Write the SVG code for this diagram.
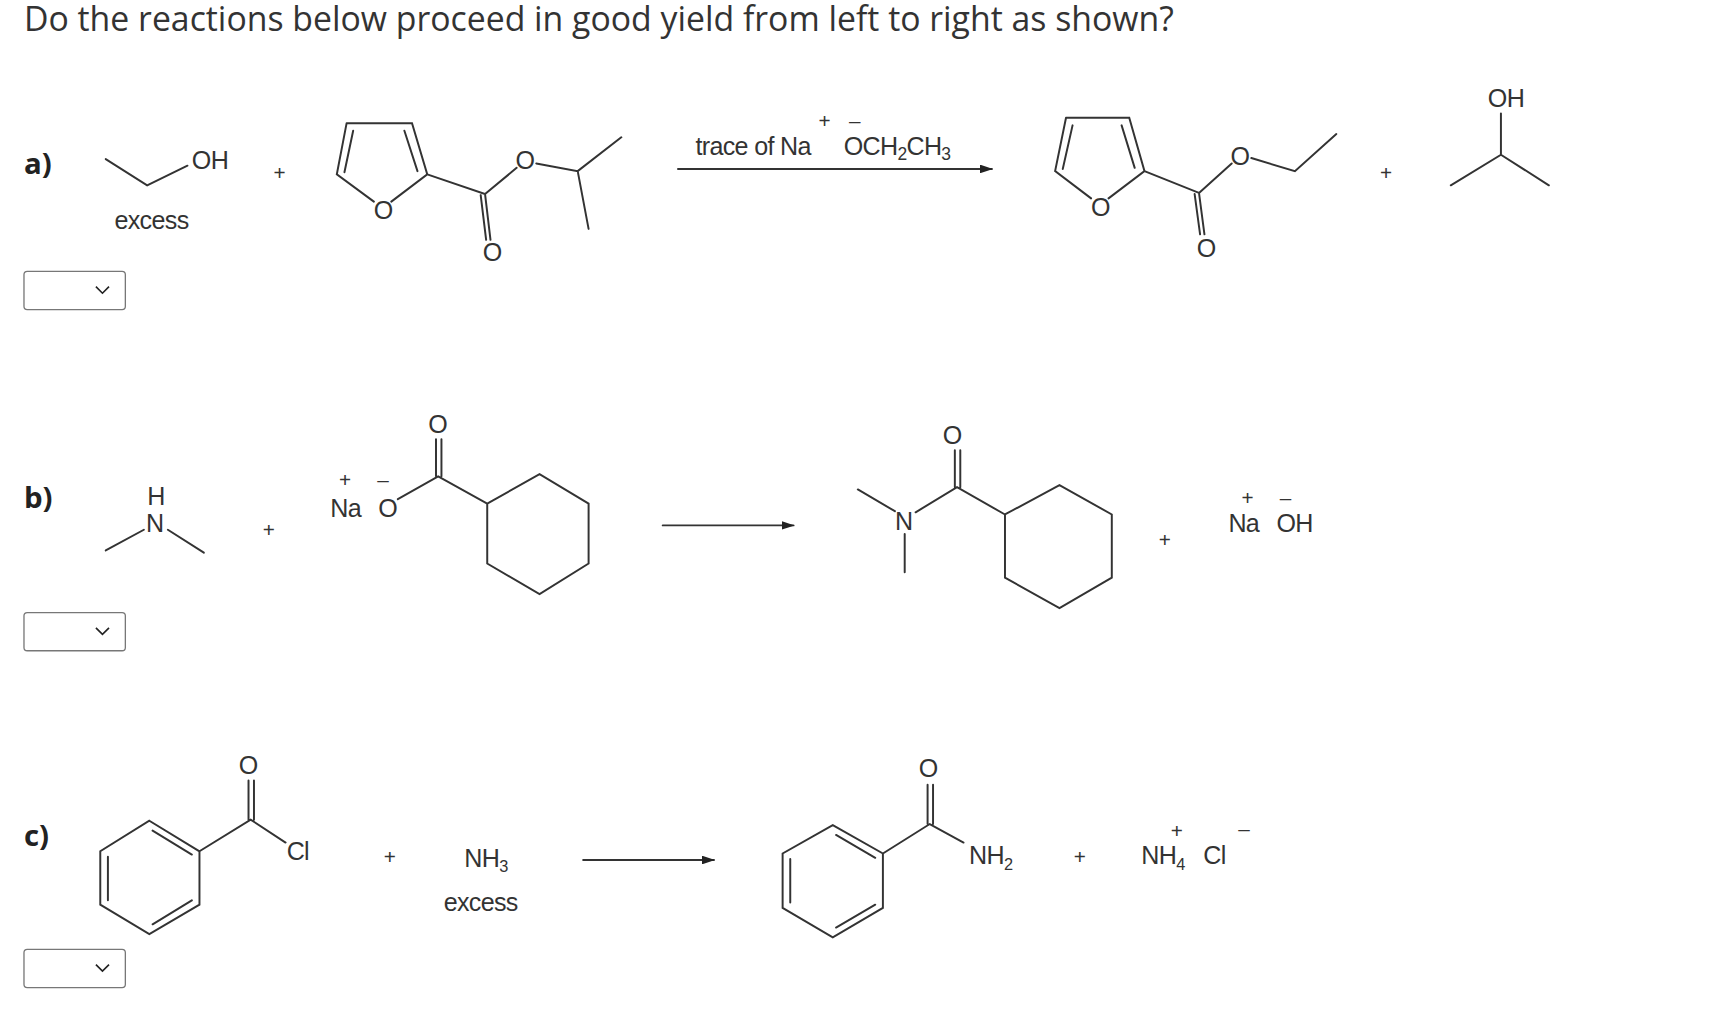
<svg xmlns="http://www.w3.org/2000/svg" width="1710" height="1025" viewBox="0 0 1710 1025">
<style>
.b{stroke:#333;stroke-width:1.8;fill:none;stroke-linecap:round}
.t{font-family:"Liberation Sans",Arial,sans-serif;font-size:23px;fill:#333;letter-spacing:-0.6px}
.s{font-family:"Liberation Sans",Arial,sans-serif;font-size:19px;fill:#333}
.q{font-family:"Open Sans","Noto Sans",sans-serif;font-size:31px;fill:#333}
.l{font-family:"Open Sans","Noto Sans",sans-serif;font-size:27px;font-weight:bold;fill:#222}
.dd{fill:#fff;stroke:#777;stroke-width:1.2}
.ch{stroke:#222;stroke-width:1.5;fill:none}
</style>
<defs><marker id="ah" markerWidth="12" markerHeight="8" refX="11" refY="4" orient="auto" markerUnits="userSpaceOnUse"><path d="M0,0 L12,4 L0,8 z" fill="#222"/></marker></defs>
<rect width="1710" height="1025" fill="#fff"/>
<g transform="scale(1.09)">
<text class="q" x="22" y="28">Do the reactions below proceed in good yield from left to right as shown?</text>
<g id="labels">
<text class="l" x="22" y="160">a)</text>
<text class="l" x="22" y="466">b)</text>
<text class="l" x="22" y="776">c)</text>
</g>
<g id="dropdowns">
<rect class="dd" x="22" y="249" width="93" height="35" rx="3"/><path class="ch" d="M88,263 l6,6 l6,-6"/>
<rect class="dd" x="22" y="562" width="93" height="35" rx="3"/><path class="ch" d="M88,576 l6,6 l6,-6"/>
<rect class="dd" x="22" y="871" width="93" height="35" rx="3"/><path class="ch" d="M88,885 l6,6 l6,-6"/>
</g>
<g id="ethanol">
<path class="b" d="M97,146 L135,170 L172,152"/>
<text class="t" x="176" y="155">OH</text>
<text class="t" x="105" y="210">excess</text>
</g>
<text class="s" x="251" y="165">+</text>
<g id="isopropyl-furoate">
<path class="b" d="M318,113 L378,113 L392,160 L359,185 M343,185 L309,160 L318,113 M324,120 L316,158 M371,120 L383,157 M392,160 L445,178 L450,220 M441,179 L446,220 M445,178 L474,154 M492,150 L530,157 L570,126 M530,157 L540,210"/>
<text class="t" x="343" y="201">O</text>
<text class="t" x="443" y="239">O</text>
<text class="t" x="473" y="155">O</text>
</g>
<g id="connectors">
<line class="b" x1="622" y1="155" x2="910" y2="155" marker-end="url(#ah)"/>
<line class="b" x1="608" y1="482" x2="728" y2="482" marker-end="url(#ah)"/>
<line class="b" x1="535" y1="789" x2="655" y2="789" marker-end="url(#ah)"/>
</g>
<g id="reagent-a">
<text class="t" x="638" y="142" font-size="24">trace of Na<tspan x="774">OCH</tspan><tspan font-size="16" dy="5">2</tspan><tspan dy="-5">CH</tspan><tspan font-size="16" dy="5">3</tspan></text>
<text class="s" x="751" y="117">+</text>
<text class="s" x="779" y="117">–</text>
</g>
<g id="ethyl-furoate">
<path class="b" d="M978,108 L1036,108 L1050,157 L1017,182 M1001,182 L968,157 L978,108 M984,115 L975,155 M1029,115 L1041,154 M1050,157 L1100,177 L1105,215 M1096,178 L1101,215 M1100,177 L1130,150 M1148,145 L1188,157 L1226,123"/>
<text class="t" x="1001" y="198">O</text>
<text class="t" x="1098" y="236">O</text>
<text class="t" x="1129" y="151">O</text>
</g>
<text class="s" x="1266" y="165">+</text>
<g id="isopropanol">
<path class="b" d="M1377,104 L1377,142 L1331,170 M1377,142 L1421,170"/>
<text class="t" x="1365" y="98">OH</text>
</g>
<g id="dimethylamine">
<text class="t" x="135" y="463">H</text>
<text class="t" x="134" y="488">N</text>
<path class="b" d="M97,505 L132,486 M154,486 L187,507"/>
</g>
<text class="s" x="241" y="493">+</text>
<g id="sodium-cyclohexanecarboxylate">
<text class="t" x="303" y="474">Na</text>
<text class="t" x="347" y="474">O</text>
<text class="s" x="311" y="447">+</text>
<text class="s" x="346" y="447">–</text>
<path class="b" d="M365,458 L402,437 L447,462 M447,462 L495,435 L540,462 L540,517 L495,545 L447,517 Z M400,437 L400,403 M405,437 L405,403"/>
<text class="t" x="393" y="397">O</text>
</g>
<g id="amide-b">
<path class="b" d="M787,449 L821,469 M830,490 L830,525 M840,470 L878,447 L922,472 M922,472 L972,445 L1020,472 L1020,530 L972,558 L922,530 Z M876,447 L876,413 M881,447 L881,413"/>
<text class="t" x="821" y="486">N</text>
<text class="t" x="865" y="407">O</text>
</g>
<text class="s" x="1063" y="502">+</text>
<g id="naoh">
<text class="t" x="1127" y="488">Na</text>
<text class="t" x="1171" y="488">OH</text>
<text class="s" x="1139" y="463">+</text>
<text class="s" x="1174" y="463">–</text>
</g>
<g id="benzoyl-chloride">
<path class="b" d="M137,753 L183,781 L183,830 L137,857 L92,830 L92,781 Z M140,762 L176,784 M99,786 L99,826 M140,848 L176,826 M183,781 L230,752 L262,773 M228,752 L228,716 M233,752 L233,716"/>
<text class="t" x="219" y="710">O</text>
<text class="t" x="263" y="789">Cl</text>
</g>
<text class="s" x="352" y="793">+</text>
<g id="ammonia">
<text class="t" x="426" y="795">NH<tspan font-size="15" dy="5">3</tspan></text>
<text class="t" x="407" y="836">excess</text>
</g>
<g id="benzamide">
<path class="b" d="M764,757 L810,783 L810,833 L764,860 L718,833 L718,783 Z M767,766 L803,787 M725,788 L725,828 M767,851 L803,830 M810,783 L853,756 L884,773 M851,756 L851,720 M856,756 L856,720"/>
<text class="t" x="843" y="713">O</text>
<text class="t" x="889" y="793">NH<tspan font-size="15" dy="5">2</tspan></text>
</g>
<text class="s" x="985" y="793">+</text>
<g id="ammonium-chloride">
<text class="t" x="1047" y="793">NH<tspan font-size="15" dy="5">4</tspan></text>
<text class="t" x="1104" y="793">Cl</text>
<text class="s" x="1074" y="769">+</text>
<text class="s" x="1136" y="767">–</text>
</g>
</g>
</svg>
